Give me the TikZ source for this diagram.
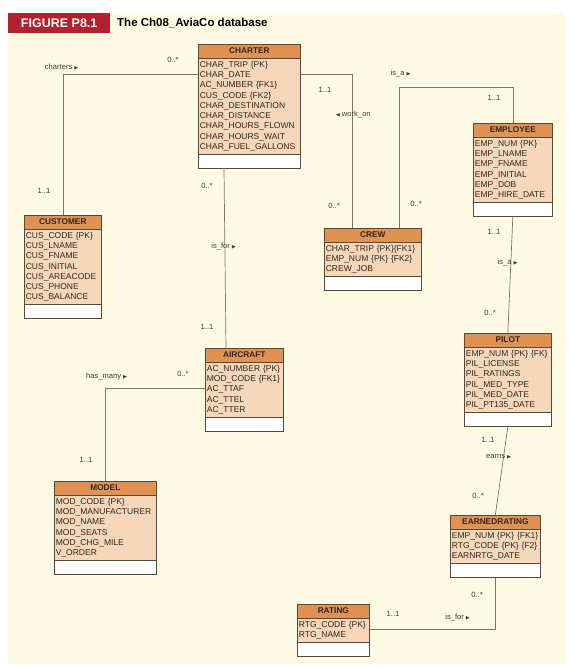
\documentclass[tikz,border=0pt]{standalone}
\usepackage{amssymb}
\usepackage{fontspec}
\setmainfont{Liberation Sans}
\usetikzlibrary{shapes.multipart,calc}
\definecolor{fond}{RGB}{253,251,228}
\definecolor{titre}{RGB}{178,34,46}
\definecolor{entete}{RGB}{224,146,82}
\definecolor{attrib}{RGB}{246,215,185}
\definecolor{bord}{RGB}{85,72,60}
\definecolor{lien}{RGB}{120,118,108}
\definecolor{encre}{RGB}{45,40,35}
\definecolor{legende}{RGB}{60,60,60}
\newcommand{\rtri}{\,{\tiny$\blacktriangleright$}}
\newcommand{\ltri}{{\tiny$\blacktriangleleft$}\,}
\newcommand{\entname}[1]{\hfill{\fontsize{8.3}{10.25}\selectfont\bfseries #1}\strut\hfill\null}

\begin{document}
\begin{tikzpicture}[x=1pt,y=-1pt,
  entite/.style={rectangle split,rectangle split parts=3,draw=bord,line width=0.7pt,
    rectangle split part fill={entete,attrib,white},anchor=north west,
    inner xsep=1.5pt,inner ysep=1.5pt,text width=#1,align=left,text=encre,
    font=\fontsize{8.5}{10.25}\selectfont},
  mult/.style={font=\fontsize{7.6}{9}\selectfont,text=legende,inner sep=0pt},
  rel/.style={draw=lien,line width=0.7pt}]
  \useasboundingbox (0,0) rectangle (573,667);
  \fill[fond] (8,13) rectangle (566,664);
  \node[fill=titre,text=white,font=\bfseries\fontsize{12.5}{14}\selectfont,
    minimum width=102pt,minimum height=20pt,inner sep=0pt,anchor=north west] (fig) at (8,13) {FIGURE P8.1};
  \node[anchor=west,font=\bfseries\fontsize{11.5}{13}\selectfont,inner sep=0pt] (titre) at (117,23) {The Ch08\_AviaCo database};
  % entities
  \node[entite=99pt] (charter) at (198,44) {\entname{CHARTER}
    \nodepart{two}\strut CHAR\_TRIP \{PK\}\\CHAR\_DATE\\AC\_NUMBER \{FK1\}\\CUS\_CODE \{FK2\}\\
    CHAR\_DESTINATION\\CHAR\_DISTANCE\\CHAR\_HOURS\_FLOWN\\CHAR\_HOURS\_WAIT\\CHAR\_FUEL\_GALLONS\strut
    \nodepart{three}\rule{0pt}{10pt}};
  \node[entite=74pt] (customer) at (24,215) {\entname{CUSTOMER}
    \nodepart{two}\strut CUS\_CODE \{PK\}\\CUS\_LNAME\\CUS\_FNAME\\CUS\_INITIAL\\CUS\_AREACODE\\
    CUS\_PHONE\\CUS\_BALANCE\strut
    \nodepart{three}\rule{0pt}{10pt}};
  \node[entite=94pt] (crew) at (324,228) {\entname{CREW}
    \nodepart{two}\strut CHAR\_TRIP \{PK\}\{FK1\}\\EMP\_NUM \{PK\} \{FK2\}\\CREW\_JOB\strut
    \nodepart{three}\rule{0pt}{10pt}};
  \node[entite=76pt] (employee) at (473,123) {\entname{EMPLOYEE}
    \nodepart{two}\strut EMP\_NUM \{PK\}\\EMP\_LNAME\\EMP\_FNAME\\EMP\_INITIAL\\EMP\_DOB\\EMP\_HIRE\_DATE\strut
    \nodepart{three}\rule{0pt}{10pt}};
  \node[entite=84pt] (pilot) at (464,333) {\entname{PILOT}
    \nodepart{two}\strut EMP\_NUM \{PK\} \{FK\}\\PIL\_LICENSE\\PIL\_RATINGS\\PIL\_MED\_TYPE\\
    PIL\_MED\_DATE\\PIL\_PT135\_DATE\strut
    \nodepart{three}\rule{0pt}{10pt}};
  \node[entite=75pt] (aircraft) at (205,348) {\entname{AIRCRAFT}
    \nodepart{two}\strut AC\_NUMBER \{PK\}\\MOD\_CODE \{FK1\}\\AC\_TTAF\\AC\_TTEL\\AC\_TTER\strut
    \nodepart{three}\rule{0pt}{10pt}};
  \node[entite=99pt] (model) at (54,481) {\entname{MODEL}
    \nodepart{two}\strut MOD\_CODE \{PK\}\\MOD\_MANUFACTURER\\MOD\_NAME\\MOD\_SEATS\\MOD\_CHG\_MILE\\V\_ORDER\strut
    \nodepart{three}\rule{0pt}{10pt}};
  \node[entite=87pt] (earnedrating) at (450,515) {\entname{EARNEDRATING}
    \nodepart{two}\strut EMP\_NUM \{PK\} \{FK1\}\\RTG\_CODE \{PK\} \{F2\}\\EARNRTG\_DATE\strut
    \nodepart{three}\rule{0pt}{10pt}};
  \node[entite=69pt] (rating) at (297,604) {\entname{RATING}
    \nodepart{two}\strut RTG\_CODE \{PK\}\\RTG\_NAME\strut
    \nodepart{three}\rule{0pt}{10pt}};
  % relations
  \draw[rel] ($(charter.north west)+(0,30)$) -| (customer.north);
  \draw[rel] ($(charter.north east)+(0,30)$) -| ($(crew.north west)+(28,0)$);
  \draw[rel] ($(crew.north west)+(75,0)$) -- ++(0,-141) -| (employee.north);
  \draw[rel] (employee.south) -- (pilot.north);
  \draw[rel] ($(charter.south west)+(26,0)$) -- ($(aircraft.north west)+(21,0)$);
  \draw[rel] ($(aircraft.north west)+(0,40)$) -| (model.north);
  \draw[rel] (pilot.south) -- (earnedrating.north);
  \draw[rel] (earnedrating.south) |- ($(rating.north east)+(0,25)$);
  % multiplicities and names
  \node[mult] (m1) at (62,67) {charters\rtri};
  \node[mult] (m2) at (173,60) {0..*};
  \node[mult] (m3) at (44,191) {1..1};
  \node[mult] (m4) at (325,90) {1..1};
  \node[mult] (m5) at (353,114) {\ltri work\_on};
  \node[mult] (m6) at (334,206) {0..*};
  \node[mult] (m7) at (401,73) {is\_a\rtri};
  \node[mult] (m8) at (494,98) {1..1};
  \node[mult] (m9) at (416,204) {0..*};
  \node[mult] (m10) at (494,232) {1..1};
  \node[mult] (m11) at (508,262) {is\_a\rtri};
  \node[mult] (m12) at (490,313) {0..*};
  \node[mult] (m13) at (207,186) {0..*};
  \node[mult] (m14) at (224,246) {is\_for\rtri};
  \node[mult] (m15) at (207,327) {1..1};
  \node[mult] (m16) at (107,377) {has\_many\rtri};
  \node[mult] (m17) at (183,374) {0..*};
  \node[mult] (m18) at (86,460) {1..1};
  \node[mult] (m19) at (488,440) {1..1};
  \node[mult] (m20) at (499,457) {earns\rtri};
  \node[mult] (m21) at (478,496) {0..*};
  \node[mult] (m22) at (477,595) {0..*};
  \node[mult] (m23) at (393,614) {1..1};
  \node[mult] (m24) at (458,617) {is\_for\rtri};
\end{tikzpicture}
\end{document}
